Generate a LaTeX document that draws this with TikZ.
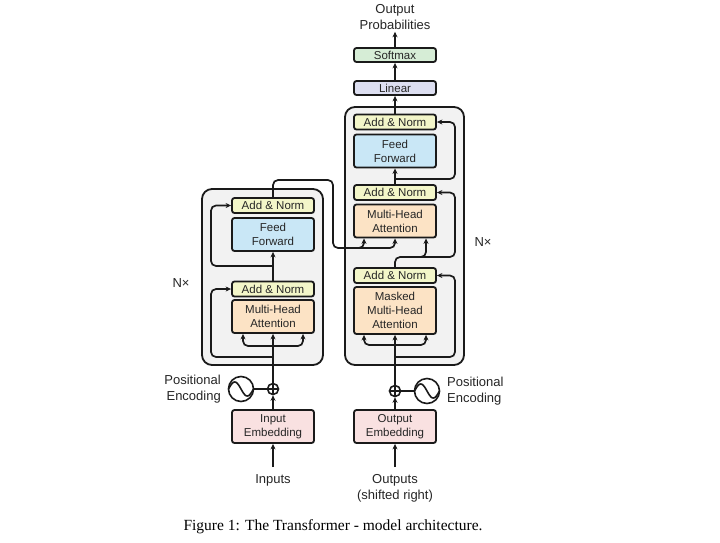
\documentclass[tikz,border=0pt]{standalone}
\usepackage{fontspec}
\setmainfont{Liberation Sans}
\newfontfamily\capfont{Liberation Serif}
\usetikzlibrary{arrows.meta,calc}

\definecolor{txt}{HTML}{262626}
\definecolor{edge}{HTML}{1A1A1A}
\definecolor{anfill}{HTML}{F3F6C9}
\definecolor{fffill}{HTML}{C9E7F6}
\definecolor{mhafill}{HTML}{FCE3C5}
\definecolor{embfill}{HTML}{F9E1E1}
\definecolor{linfill}{HTML}{DDDFF1}
\definecolor{smfill}{HTML}{D6EDD6}
\definecolor{blockfill}{HTML}{F2F2F2}

\begin{document}
\begin{tikzpicture}[x=1pt,y=-1pt,
  box/.style={draw=edge, line width=1.8pt, rounded corners=2.5pt, minimum width=82pt,
    inner sep=0pt, text=txt, font=\fontsize{11.5}{14}\selectfont, align=center},
  an/.style={box, fill=anfill, minimum height=15pt},
  ff/.style={box, fill=fffill, minimum height=33pt},
  mha/.style={box, fill=mhafill, minimum height=33pt},
  emb/.style={box, fill=embfill, minimum height=33pt},
  block/.style={draw=edge, line width=1.8pt, rounded corners=10pt, fill=blockfill, inner sep=0pt},
  wire/.style={draw=edge, line width=1.7pt, rounded corners=5pt},
  arr/.style={wire, -{Stealth[length=5.5pt,width=5pt]}},
  lbl/.style={text=txt, font=\fontsize{13}{16}\selectfont, inner sep=0pt},
  ring/.style={draw=edge, line width=1.6pt, circle, inner sep=0pt},
]
\useasboundingbox[fill=white] (0,0) rectangle (720,542);

% outer blocks
\node[block, minimum width=121pt, minimum height=176pt] (enc) at (262.5,277) {};
\node[block, minimum width=119pt, minimum height=258pt] (dec) at (404.5,236) {};

% encoder
\node[an] (encAN2) at (273,205.5) {Add \& Norm};
\node[ff] (encFF) at (273,234.5) {Feed\\Forward};
\node[an] (encAN1) at (273,289) {Add \& Norm};
\node[mha] (encMHA) at (273,316.5) {Multi-Head\\Attention};
\node[emb] (inEmb) at (273,426.5) {Input\\Embedding};

% decoder
\node[an] (decAN3) at (395,122) {Add \& Norm};
\node[ff] (decFF) at (395,151) {Feed\\Forward};
\node[an] (decAN2) at (395,192.5) {Add \& Norm};
\node[mha] (decMHA) at (395,221) {Multi-Head\\Attention};
\node[an] (decAN1) at (395,275.5) {Add \& Norm};
\node[mha, minimum height=47pt] (decMMHA) at (395,310.5) {Masked\\Multi-Head\\Attention};
\node[emb] (outEmb) at (395,426.5) {Output\\Embedding};
\node[box, fill=linfill, minimum height=14pt] (linear) at (395,88) {Linear};
\node[box, fill=smfill, minimum height=14pt] (softmax) at (395,55) {Softmax};

% labels
\node[lbl, align=center] (outprob) at (395,17) {Output\\Probabilities};
\node[lbl] (inputs) at (273,480) {Inputs};
\node[lbl, align=center] (outputs) at (395,488) {Outputs\\(shifted right)};
\node[lbl, align=right, anchor=east] (encPE) at (221,389) {Positional\\Encoding};
\node[lbl, align=left, anchor=west] (decPE) at (447,391) {Positional\\Encoding};
\node[lbl] (encN) at (181,283) {N×};
\node[lbl] (decN) at (483,242) {N×};

% positional encoding symbols
\node[ring, minimum size=11pt] (encPlus) at (273,389) {};
\draw[edge, line width=1.2pt] (encPlus.north) -- (encPlus.south) (encPlus.west) -- (encPlus.east);
\node[ring, minimum size=25pt] (encSin) at (241,389) {};
\draw[edge, line width=1.6pt] plot[domain=-1:1, samples=41, smooth] ({241+12.5*\x},{389+7*sin(180*\x)});
\node[ring, minimum size=11pt] (decPlus) at (395,391) {};
\draw[edge, line width=1.2pt] (decPlus.north) -- (decPlus.south) (decPlus.west) -- (decPlus.east);
\node[ring, minimum size=25pt] (decSin) at (427,391) {};
\draw[edge, line width=1.6pt] plot[domain=-1:1, samples=41, smooth] ({427+12.5*\x},{391+7*sin(180*\x)});
\draw[wire] (encSin.east) -- (encPlus.west);
\draw[wire] (decPlus.east) -- (decSin.west);

% inputs
\draw[arr] (273,467) -- (inEmb.south);
\draw[arr] (inEmb.north) -- (encPlus.south);
\draw[arr] (encPlus.north) -- (encMHA.south);
\draw[arr] (395,467) -- (outEmb.south);
\draw[arr] (outEmb.north) -- (decPlus.south);
\draw[arr] (decPlus.north) -- (decMMHA.south);

% encoder wiring
\draw[arr] (273,346) -| ([xshift=-30pt]encMHA.south);
\draw[arr] (273,346) -| ([xshift=30pt]encMHA.south);
\draw[arr] (273,357) -- (211,357) |- (encAN1.west);
\draw[arr] (encAN1.north) -- (encFF.south);
\draw[arr] (273,266) -- (211,266) |- (encAN2.west);

% encoder output to decoder
\draw[arr] (encAN2.north) -- (273,180) -| (333,248) -| ([xshift=-31pt]decMHA.south);
\draw[arr] (350,248) -| (decMHA.south);

% decoder wiring
\draw[arr] (395,345) -| ([xshift=-31pt]decMMHA.south);
\draw[arr] (395,345) -| ([xshift=31pt]decMMHA.south);
\draw[arr] (395,357) -- (455,357) |- (decAN1.east);
\draw[arr] (decAN1.north) -- (395,257) -- (455,257) |- (decAN2.east);
\draw[arr] (410,257) -| ([xshift=31pt]decMHA.south);
\draw[arr] (decAN2.north) -- (decFF.south);
\draw[arr] (395,179) -- (455,179) |- (decAN3.east);
\draw[arr] (decAN3.north) -- (linear.south);
\draw[arr] (linear.north) -- (softmax.south);
\draw[arr] (softmax.north) -- ([yshift=-2pt]outprob.south);

% caption
\node[font=\capfont\fontsize{15.5}{18}\selectfont, text=black, inner sep=0pt] (cap) at (333,527) {Figure 1: The Transformer - model architecture.};
\end{tikzpicture}
\end{document}
